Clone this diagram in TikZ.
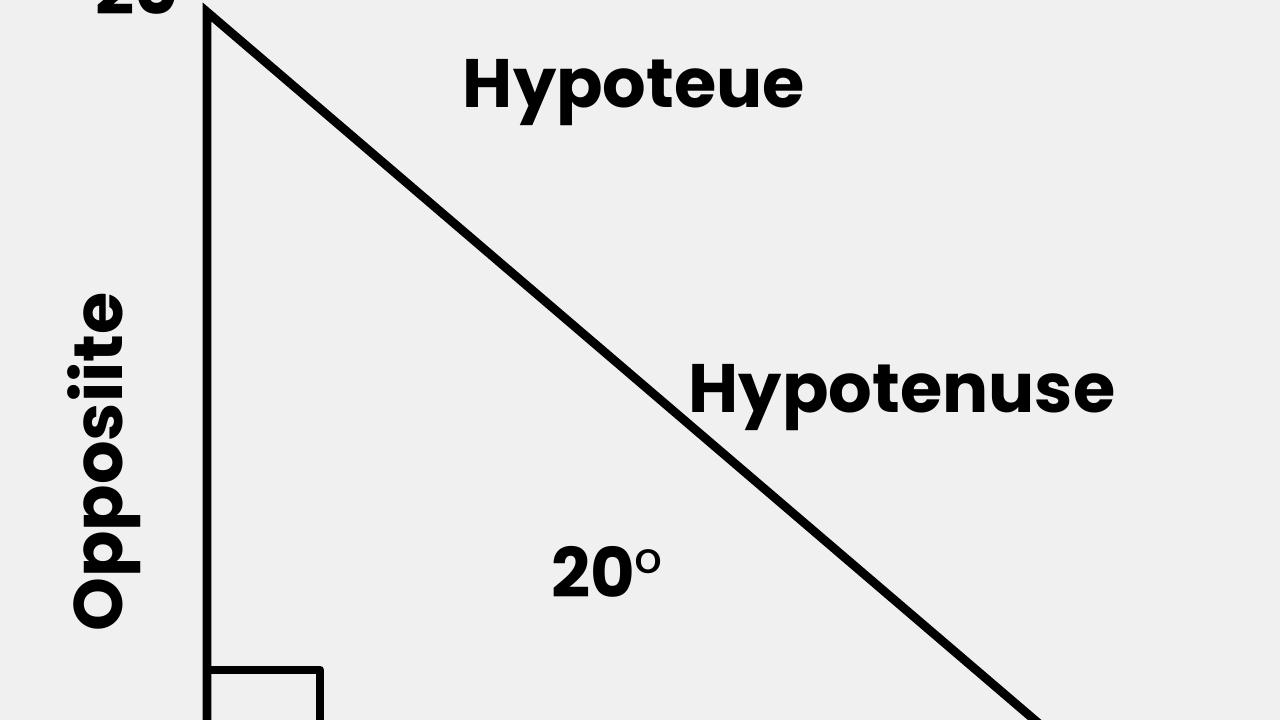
\documentclass[tikz,border=0pt]{standalone}
\usepackage{fontspec}
\setmainfont{Poppins}
\definecolor{paper}{HTML}{F0F0F0}
\tikzset{
  side/.style={line width=2.5pt, line join=miter},
  lbl/.style={font=\fontsize{19.5}{22}\selectfont\bfseries, inner sep=0pt, anchor=base},
}

\begin{document}
\begin{tikzpicture}
  \useasboundingbox (0,0) rectangle (12.8,7.2);
  \fill[paper] (0,0) rectangle (12.8,7.2);

  % corners of the triangle (the bottom runs off the page)
  \coordinate (top) at (2.07,7.08);
  \coordinate (foot) at (2.07,-0.2);
  \coordinate (tip) at (10.58,-0.2);
  \coordinate (sqa) at (2.07,0.50);
  \coordinate (sqb) at (3.20,0.50);
  \coordinate (sqc) at (3.20,-0.2);

  \draw[side] (foot) -- (top) -- (tip);
  \draw[side, line join=round] (sqa) -- (sqb) -- (sqc);

  % labels
  \node[lbl] (topang) at (1.37,7.05) {20};
  \node[lbl] (hyp1) at (6.34,6.12) {Hypoteue};
  \node[lbl] (hyp2) at (9.02,3.07) {Hypotenuse};
  \node[lbl] (ang) at (6.07,1.22) {20{\mdseries°}};
  \node[lbl, rotate=90] (opp) at (1.22,2.58) {Opposiite};
\end{tikzpicture}
\end{document}
